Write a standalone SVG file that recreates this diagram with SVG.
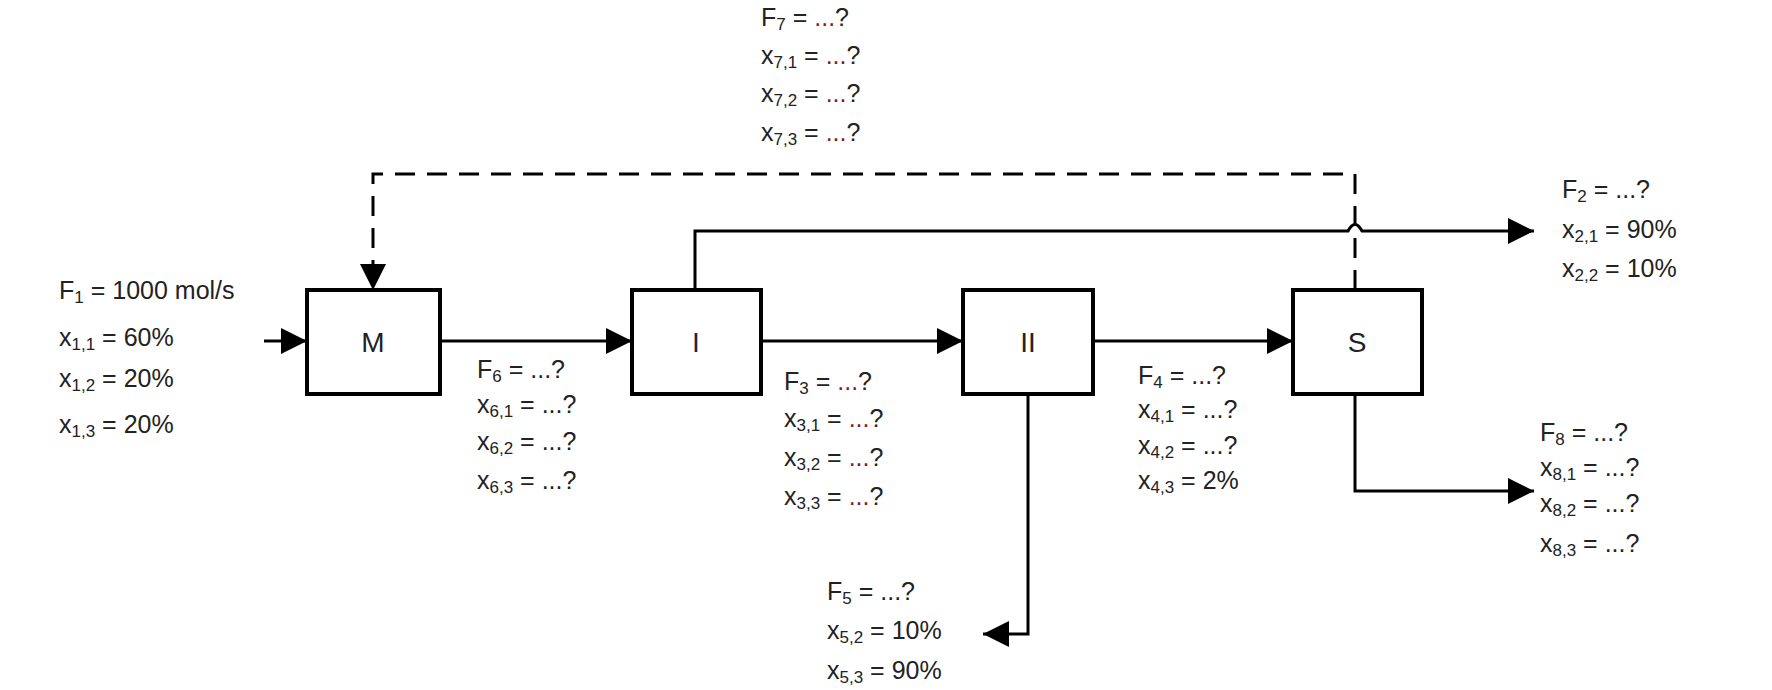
<svg xmlns="http://www.w3.org/2000/svg" width="1772" height="690" viewBox="0 0 1772 690">
<style>
text{font-family:"Liberation Sans",Arial,sans-serif;font-size:25px;fill:#222}
.b{font-size:28px;text-anchor:middle}
.s{font-size:17px}
.r{fill:#8b1a1a}
rect{fill:#fff;stroke:#000;stroke-width:4}
.c path{fill:none;stroke:#000;stroke-width:3}
</style>
<defs><marker id="a" markerWidth="10" markerHeight="10" refX="9" refY="5" orient="auto" markerUnits="userSpaceOnUse" viewBox="0 0 10 10"><path d="M0,0L10,5L0,10z" fill="#000" transform="scale(1)"/></marker>
<marker id="A" viewBox="0 0 10 10" refX="10" refY="5" markerWidth="26" markerHeight="26" markerUnits="userSpaceOnUse" orient="auto"><path d="M0,0L10,5L0,10z" fill="#000"/></marker></defs>
<g class="c" id="connectors">
<path d="M264,341H307" marker-end="url(#A)"/>
<path d="M440,341H632" marker-end="url(#A)"/>
<path d="M761,341H963" marker-end="url(#A)"/>
<path d="M1093,341H1293" marker-end="url(#A)"/>
<path d="M695,290V231H1348Q1355,218 1362,231H1534" marker-end="url(#A)"/>
<path d="M1355,394V491H1534" marker-end="url(#A)"/>
<path d="M1028,394V634H983" marker-end="url(#A)"/>
<path d="M1355,290V174H373V290" stroke-dasharray="20,12" marker-end="url(#A)"/>
</g>
<g id="M"><rect x="307" y="290" width="133" height="104"/><text class="b" x="373" y="352">M</text></g>
<g id="I"><rect x="632" y="290" width="129" height="104"/><text class="b" x="696" y="352" style="fill:#224">I</text></g>
<g id="II"><rect x="963" y="290" width="130" height="104"/><text class="b" x="1028" y="352">II</text></g>
<g id="S"><rect x="1293" y="290" width="129" height="104"/><text class="b" x="1357" y="352">S</text></g>
<g id="labels">
<text x="761" y="26">F<tspan class="s" dy="4">7</tspan><tspan dy="-4"> = </tspan><tspan class="r">...</tspan>?</text>
<text x="761" y="64">x<tspan class="s" dy="4">7,1</tspan><tspan dy="-4"> = </tspan><tspan class="r">...</tspan>?</text>
<text x="761" y="102">x<tspan class="s" dy="4">7,2</tspan><tspan dy="-4"> = </tspan><tspan class="r">...</tspan>?</text>
<text x="761" y="141">x<tspan class="s" dy="4">7,3</tspan><tspan dy="-4"> = </tspan><tspan class="r">...</tspan>?</text>

<text x="1562" y="198">F<tspan class="s" dy="4">2</tspan><tspan dy="-4"> = ...?</tspan></text>
<text x="1562" y="238">x<tspan class="s" dy="4">2,1</tspan><tspan dy="-4"> = 90%</tspan></text>
<text x="1562" y="277">x<tspan class="s" dy="4">2,2</tspan><tspan dy="-4"> = 10%</tspan></text>

<text x="59" y="299">F<tspan class="s" dy="4">1</tspan><tspan dy="-4"> = 1000 mol/s</tspan></text>
<text x="59" y="346">x<tspan class="s" dy="4">1,1</tspan><tspan dy="-4"> = 60%</tspan></text>
<text x="59" y="387">x<tspan class="s" dy="4">1,2</tspan><tspan dy="-4"> = 20%</tspan></text>
<text x="59" y="433">x<tspan class="s" dy="4">1,3</tspan><tspan dy="-4"> = 20%</tspan></text>

<text x="477" y="378">F<tspan class="s" dy="4">6</tspan><tspan dy="-4"> = ...?</tspan></text>
<text x="477" y="413">x<tspan class="s" dy="4">6,1</tspan><tspan dy="-4"> = ...?</tspan></text>
<text x="477" y="450">x<tspan class="s" dy="4">6,2</tspan><tspan dy="-4"> = ...?</tspan></text>
<text x="477" y="489">x<tspan class="s" dy="4">6,3</tspan><tspan dy="-4"> = ...?</tspan></text>

<text x="784" y="390">F<tspan class="s" dy="4">3</tspan><tspan dy="-4"> = </tspan><tspan class="r">...</tspan>?</text>
<text x="784" y="427">x<tspan class="s" dy="4">3,1</tspan><tspan dy="-4"> = </tspan><tspan class="r">...</tspan>?</text>
<text x="784" y="466">x<tspan class="s" dy="4">3,2</tspan><tspan dy="-4"> = </tspan><tspan class="r">...</tspan>?</text>
<text x="784" y="505">x<tspan class="s" dy="4">3,3</tspan><tspan dy="-4"> = </tspan><tspan class="r">...</tspan>?</text>

<text x="1138" y="384">F<tspan class="s" dy="4">4</tspan><tspan dy="-4"> = ...?</tspan></text>
<text x="1138" y="418">x<tspan class="s" dy="4">4,1</tspan><tspan dy="-4"> = ...?</tspan></text>
<text x="1138" y="454">x<tspan class="s" dy="4">4,2</tspan><tspan dy="-4"> = ...?</tspan></text>
<text x="1138" y="489">x<tspan class="s" dy="4">4,3</tspan><tspan dy="-4"> = 2%</tspan></text>

<text x="1540" y="441">F<tspan class="s" dy="4">8</tspan><tspan dy="-4"> = ...?</tspan></text>
<text x="1540" y="476">x<tspan class="s" dy="4">8,1</tspan><tspan dy="-4"> = ...?</tspan></text>
<text x="1540" y="512">x<tspan class="s" dy="4">8,2</tspan><tspan dy="-4"> = ...?</tspan></text>
<text x="1540" y="552">x<tspan class="s" dy="4">8,3</tspan><tspan dy="-4"> = ...?</tspan></text>

<text x="827" y="600">F<tspan class="s" dy="4">5</tspan><tspan dy="-4"> = ...?</tspan></text>
<text x="827" y="639">x<tspan class="s" dy="4">5,2</tspan><tspan dy="-4"> = 10%</tspan></text>
<text x="827" y="679">x<tspan class="s" dy="4">5,3</tspan><tspan dy="-4"> = 90%</tspan></text>
</g>
</svg>
